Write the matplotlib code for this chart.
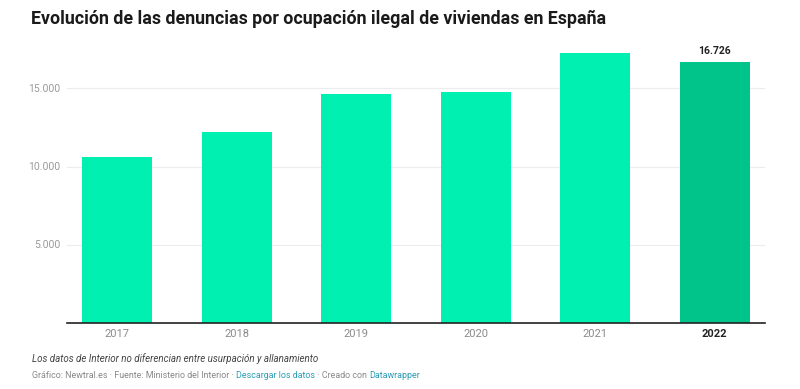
import matplotlib
matplotlib.use("Agg")
import matplotlib.pyplot as plt

# datos
years = ["2017", "2018", "2019", "2020", "2021", "2022"]
denuncias = [10580, 12240, 14620, 14800, 17300, 16726]
yticks = [5000, 10000, 15000]
ytick_labels = ["5.000", "10.000", "15.000"]

plt.rcParams['font.family'] = ['Roboto', 'DejaVu Sans']

W, H = 800, 389
fig = plt.figure(figsize=(W / 100, H / 100), dpi=100)
fig.patch.set_facecolor("white")

# ejes en coordenadas de pixel
left, right, base = 67, 765, 322.5
ymax = 18000
top = base - ymax / 5000 * 78
ax = fig.add_axes([left / W, (H - base) / H, (right - left) / W, (base - top) / H])

colores = ["#00f0b2"] * 5 + ["#00c48a"]
x = list(range(len(years)))
ax.bar(x, denuncias, width=0.586, color=colores, zorder=2)
ax.set_xlim(-0.42, 5.42)
ax.set_ylim(0, ymax)

ax.set_yticks(yticks)
ax.set_yticklabels(ytick_labels, color="#9a9a9a", fontsize=7.5)
ax.tick_params(axis="y", length=0, pad=5)
ax.grid(axis="y", color="#ececec", linewidth=0.8, zorder=0)

ax.set_xticks(x)
ax.set_xticklabels(years, color="#8a8a8a", fontsize=8)
ax.tick_params(axis="x", length=0, pad=5)
lbl = ax.get_xticklabels()[-1]
lbl.set_fontweight("bold")
lbl.set_color("#222222")

for s in ["top", "right", "left"]:
    ax.spines[s].set_visible(False)
ax.spines["bottom"].set_color("#222222")
ax.spines["bottom"].set_linewidth(1.2)
ax.spines["bottom"].set_zorder(3)

# etiqueta del ultimo valor
ax.annotate("16.726", (x[-1], denuncias[-1]), xytext=(0, 4), textcoords="offset points",
            ha="center", va="bottom", fontsize=7.5, fontweight="bold", color="#222222")

# titulo
fig.text(31 / W, 1 - 19 / H, "Evolución de las denuncias por ocupación ilegal de viviendas en España",
         fontsize=12.8, fontweight="bold", color="#1a1a1a", va="center", ha="left")

# notas
fig.text(32 / W, 1 - 359 / H, "Los datos de Interior no diferencian entre usurpación y allanamiento",
         fontsize=7, style="italic", color="#444444", va="center", ha="left")

partes = [("Gráfico: Newtral.es · Fuente: Ministerio del Interior · ", "#888888"),
          ("Descargar los datos", "#2a9db5"),
          (" · Creado con ", "#888888"),
          ("Datawrapper", "#2a9db5")]
fig.canvas.draw()
r = fig.canvas.get_renderer()
xpos = 32
for txt, col in partes:
    t = fig.text(xpos / W, 1 - 375 / H, txt, fontsize=6.4, color=col, va="center", ha="left")
    bb = t.get_window_extent(renderer=r)
    xpos += bb.width

fig.savefig("out.png", dpi=100)
